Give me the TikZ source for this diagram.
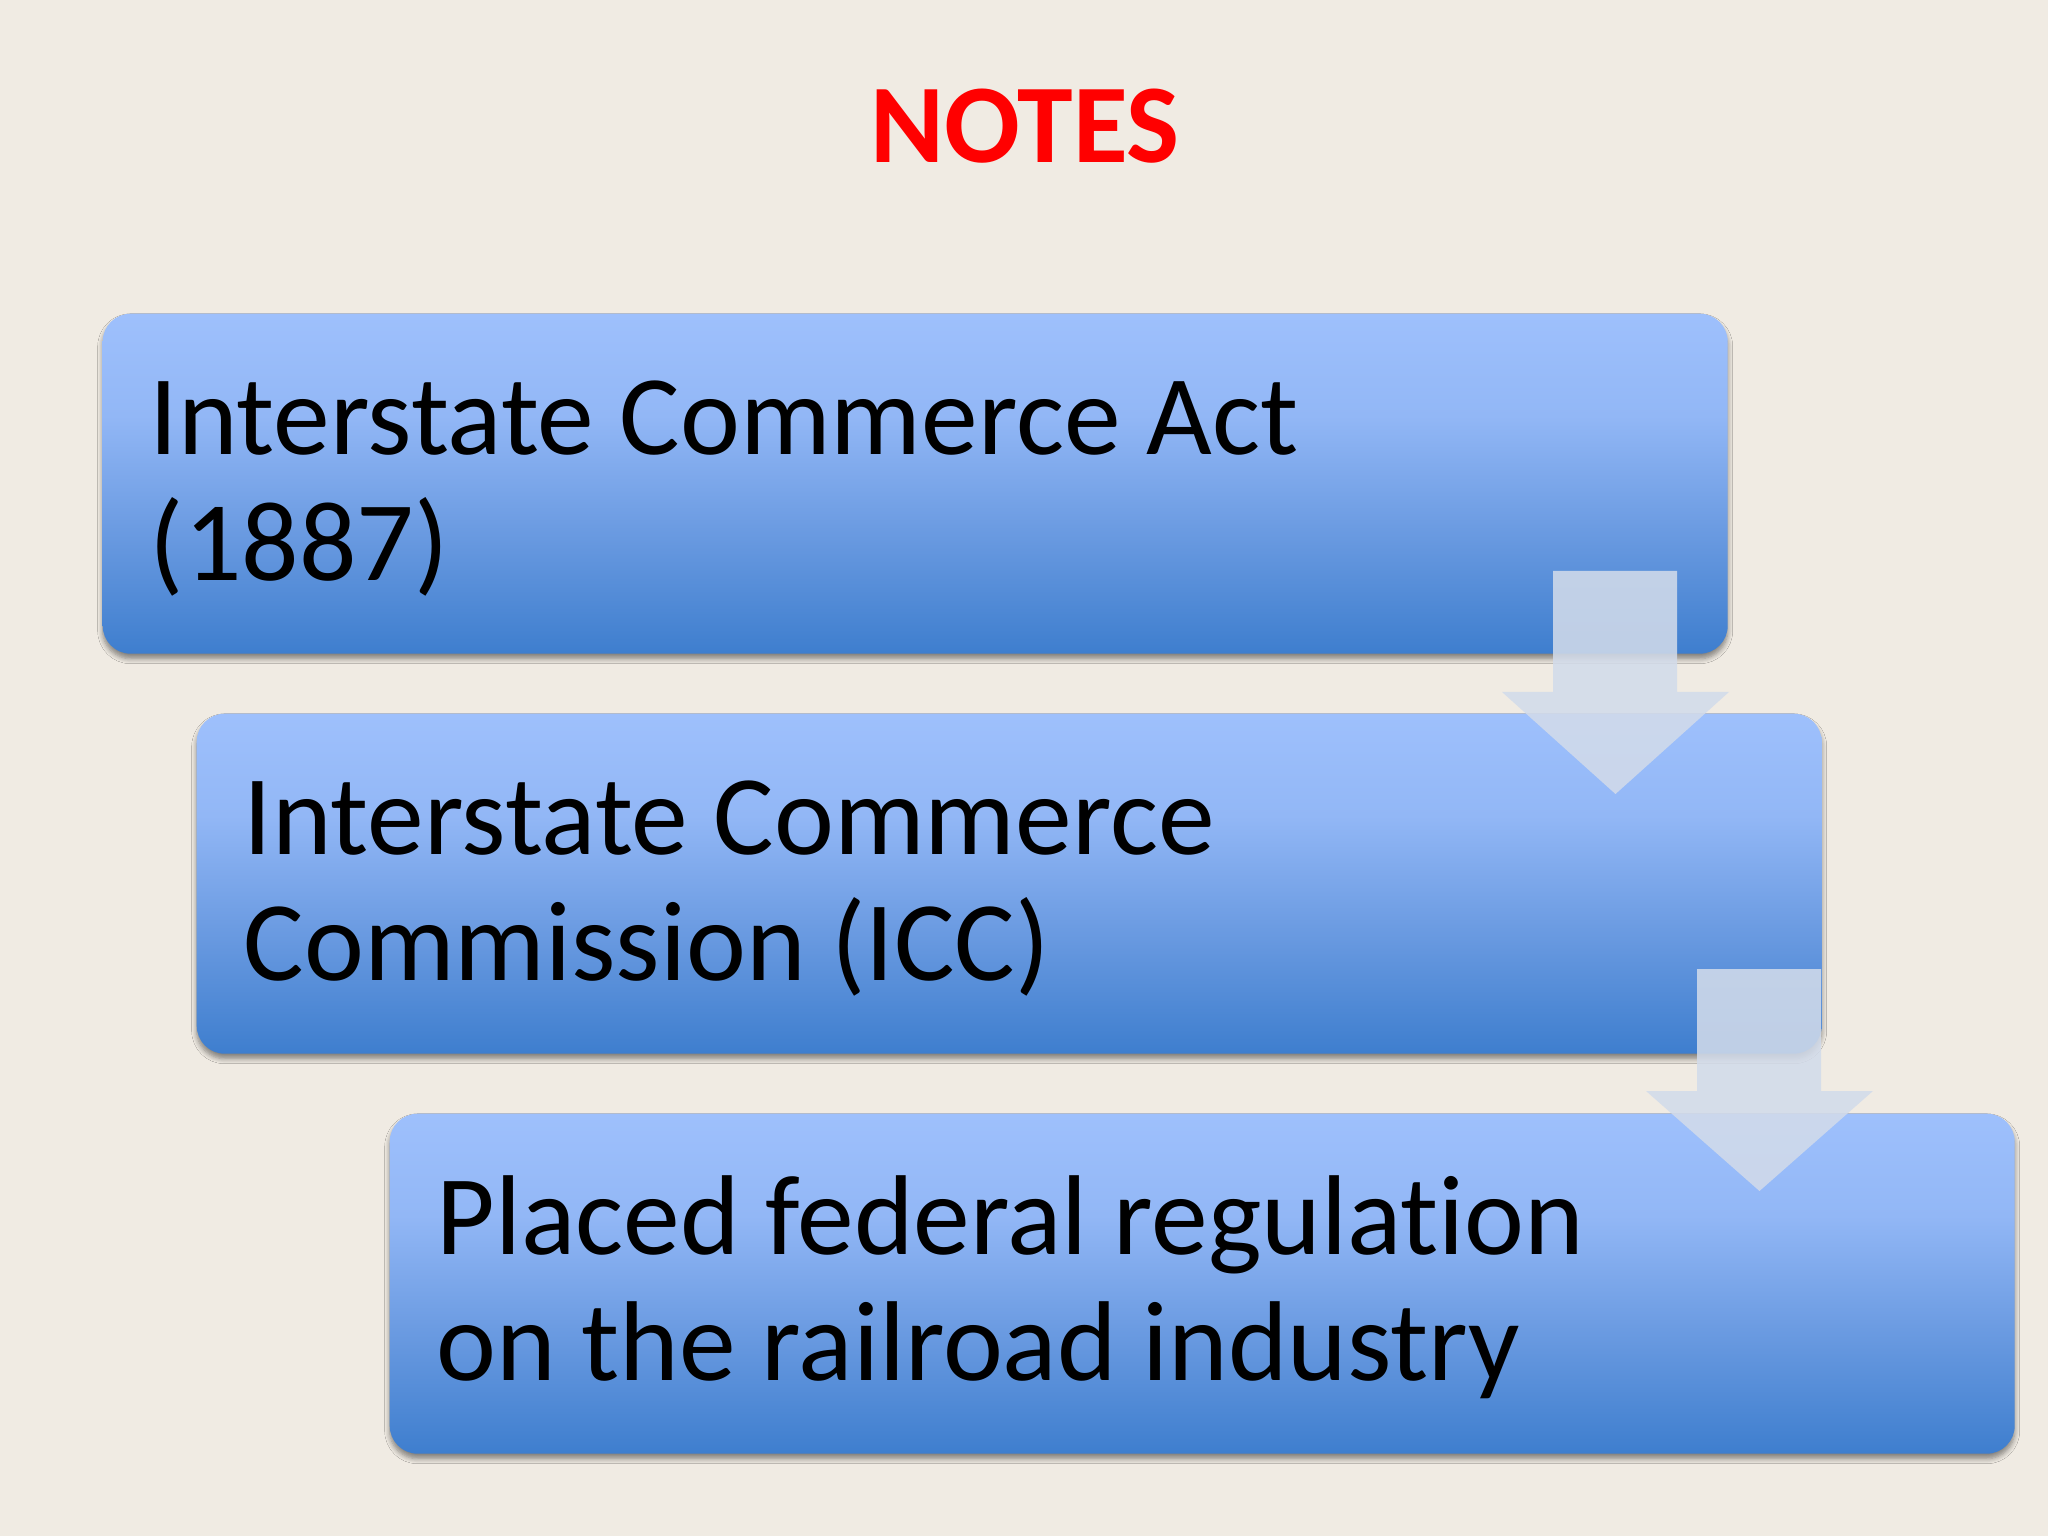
\documentclass[tikz,border=0pt]{standalone}
\usepackage{fontspec}
\setmainfont{Carlito}[Ligatures=NoCommon]
\usetikzlibrary{shadows.blur}
\definecolor{bgc}{RGB}{240,235,227}
\definecolor{boxtop}{RGB}{158,192,252}
\definecolor{boxhi}{RGB}{146,183,246}
\definecolor{boxmid}{RGB}{104,153,224}
\definecolor{boxbot}{RGB}{62,126,206}
\definecolor{arrc}{RGB}{210,219,234}
\definecolor{titlered}{RGB}{255,0,0}
\pgfdeclareverticalshading{boxshade}{100bp}{color(0bp)=(boxbot); color(25bp)=(boxbot); color(42bp)=(boxmid); color(60bp)=(boxhi); color(75bp)=(boxtop); color(100bp)=(boxtop)}
\tikzset{
  stepbox/.style={anchor=north west, minimum width=16.25cm, minimum height=3.40cm,
    inner sep=0pt, rounded corners=0.28cm, shading=boxshade,
    blur shadow={shadow xshift=0cm, shadow yshift=-0.05cm, shadow blur steps=6, shadow opacity=45, shadow blur radius=0.05cm}},
  boxtext/.style={anchor=base west, align=left, inner sep=0pt,
    font=\fontsize{32.3pt}{35.6pt}\selectfont, text=black},
  flowarrow/.style={fill=arrc, fill opacity=0.87, draw=none}
}
\begin{document}
\begin{tikzpicture}
\useasboundingbox (0,-15.36) rectangle (20.48,0);
\fill[bgc] (0,-15.36) rectangle (20.48,0);
\node[anchor=base, text=titlered, inner sep=0pt, font=\fontsize{31.9pt}{36pt}\selectfont\bfseries] (title) at (10.25,-1.63) {NOTES};
\node[stepbox] (b1) at (1.02,-3.13) {};
\node[stepbox] (b2) at (1.96,-7.13) {};
\node[stepbox] (b3) at (3.89,-11.13) {};
\node[boxtext] (t1) at ([xshift=0.47cm,yshift=-2.67cm]b1.north west) {Interstate Commerce Act\\(1887)};
\node[boxtext] (t2) at ([xshift=0.47cm,yshift=-2.67cm]b2.north west) {Interstate Commerce\\Commission (ICC)};
\node[boxtext] (t3) at ([xshift=0.47cm,yshift=-2.67cm]b3.north west) {Placed federal regulation\\on the railroad industry};
\fill[flowarrow] (15.53,-5.71) -- (16.77,-5.71) -- (16.77,-6.92) -- (17.29,-6.92) -- (16.155,-7.94) -- (15.02,-6.92) -- (15.53,-6.92) -- cycle;
\fill[flowarrow] (16.97,-9.69) -- (18.21,-9.69) -- (18.21,-10.91) -- (18.73,-10.91) -- (17.595,-11.91) -- (16.46,-10.91) -- (16.97,-10.91) -- cycle;
\end{tikzpicture}
\end{document}
